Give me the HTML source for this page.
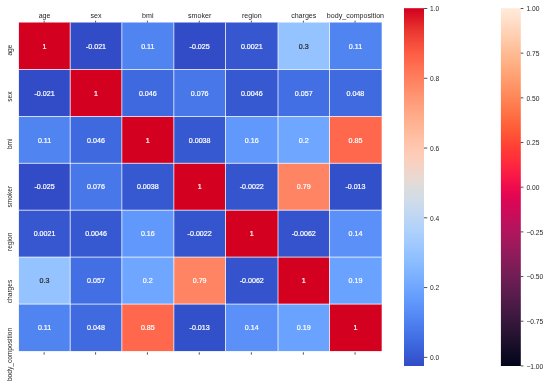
<!DOCTYPE html>
<html><head><meta charset="utf-8"><title>Correlation heatmap</title>
<style>html,body{margin:0;padding:0;background:#fff}svg{display:block}</style></head>
<body>
<svg width="550" height="387" viewBox="0 0 550 387" font-family="'Liberation Sans', sans-serif" font-size="7.1">
<defs>
<linearGradient id="g1" x1="0" y1="1" x2="0" y2="0"><stop offset="0.0000" stop-color="#314cc6"/><stop offset="0.0312" stop-color="#375ad2"/><stop offset="0.0625" stop-color="#3e68de"/><stop offset="0.0938" stop-color="#4675e8"/><stop offset="0.1250" stop-color="#4f82f0"/><stop offset="0.1562" stop-color="#598ff7"/><stop offset="0.1875" stop-color="#639bfd"/><stop offset="0.2188" stop-color="#6fa6ff"/><stop offset="0.2500" stop-color="#7bb0ff"/><stop offset="0.2812" stop-color="#87baff"/><stop offset="0.3125" stop-color="#94c2ff"/><stop offset="0.3438" stop-color="#a1caff"/><stop offset="0.3750" stop-color="#add0fc"/><stop offset="0.4062" stop-color="#bad5f6"/><stop offset="0.4375" stop-color="#c6d9ef"/><stop offset="0.4688" stop-color="#d2dce6"/><stop offset="0.5000" stop-color="#dddcdc"/><stop offset="0.5312" stop-color="#ebd8d0"/><stop offset="0.5625" stop-color="#f6d2c3"/><stop offset="0.5938" stop-color="#ffcbb6"/><stop offset="0.6250" stop-color="#ffc3a9"/><stop offset="0.6562" stop-color="#ffb99b"/><stop offset="0.6875" stop-color="#ffaf8e"/><stop offset="0.7188" stop-color="#ffa381"/><stop offset="0.7500" stop-color="#ff9774"/><stop offset="0.7812" stop-color="#ff8967"/><stop offset="0.8125" stop-color="#ff7b5b"/><stop offset="0.8438" stop-color="#ff6c4f"/><stop offset="0.8750" stop-color="#fd5c44"/><stop offset="0.9062" stop-color="#f44a3a"/><stop offset="0.9375" stop-color="#ea3630"/><stop offset="0.9688" stop-color="#de1b27"/><stop offset="1.0000" stop-color="#d3001f"/></linearGradient>
<linearGradient id="g2" x1="0" y1="1" x2="0" y2="0"><stop offset="0.0000" stop-color="#02051b"/><stop offset="0.0312" stop-color="#0e0a22"/><stop offset="0.0625" stop-color="#1b0f2b"/><stop offset="0.0938" stop-color="#291433"/><stop offset="0.1250" stop-color="#37173c"/><stop offset="0.1562" stop-color="#451943"/><stop offset="0.1875" stop-color="#531b4a"/><stop offset="0.2188" stop-color="#621c50"/><stop offset="0.2500" stop-color="#711d55"/><stop offset="0.2812" stop-color="#801c58"/><stop offset="0.3125" stop-color="#901b5b"/><stop offset="0.3438" stop-color="#a0195c"/><stop offset="0.3750" stop-color="#b0155d"/><stop offset="0.4062" stop-color="#c0105b"/><stop offset="0.4375" stop-color="#d00a58"/><stop offset="0.4688" stop-color="#df0654"/><stop offset="0.5000" stop-color="#ed0b4d"/><stop offset="0.5312" stop-color="#f91846"/><stop offset="0.5625" stop-color="#ff273e"/><stop offset="0.5938" stop-color="#ff3637"/><stop offset="0.6250" stop-color="#ff4734"/><stop offset="0.6562" stop-color="#ff5837"/><stop offset="0.6875" stop-color="#ff683f"/><stop offset="0.7188" stop-color="#ff774a"/><stop offset="0.7500" stop-color="#ff8657"/><stop offset="0.7812" stop-color="#ff9465"/><stop offset="0.8125" stop-color="#ffa174"/><stop offset="0.8438" stop-color="#ffaf83"/><stop offset="0.8750" stop-color="#ffbb94"/><stop offset="0.9062" stop-color="#ffc8a7"/><stop offset="0.9375" stop-color="#ffd4b9"/><stop offset="0.9688" stop-color="#ffe0cb"/><stop offset="1.0000" stop-color="#ffebdb"/></linearGradient>
</defs>
<rect width="550" height="387" fill="#fff"/>
<rect x="18.90" y="22.50" width="51.60" height="47.30" fill="#d3001f"/>
<rect x="70.20" y="22.50" width="51.90" height="47.30" fill="#314cc6"/>
<rect x="121.80" y="22.50" width="52.30" height="47.30" fill="#5084f1"/>
<rect x="173.80" y="22.50" width="52.00" height="47.30" fill="#314cc6"/>
<rect x="225.50" y="22.50" width="52.80" height="47.30" fill="#3657cf"/>
<rect x="278.00" y="22.50" width="51.80" height="47.30" fill="#95c3ff"/>
<rect x="329.50" y="22.50" width="52.20" height="47.30" fill="#5084f1"/>
<rect x="18.90" y="69.50" width="51.60" height="47.30" fill="#314cc6"/>
<rect x="70.20" y="69.50" width="51.90" height="47.30" fill="#d3001f"/>
<rect x="121.80" y="69.50" width="52.30" height="47.30" fill="#3f6adf"/>
<rect x="173.80" y="69.50" width="52.00" height="47.30" fill="#4777e9"/>
<rect x="225.50" y="69.50" width="52.80" height="47.30" fill="#3659d1"/>
<rect x="278.00" y="69.50" width="51.80" height="47.30" fill="#426fe3"/>
<rect x="329.50" y="69.50" width="52.20" height="47.30" fill="#406be0"/>
<rect x="18.90" y="116.50" width="51.60" height="47.10" fill="#5084f1"/>
<rect x="70.20" y="116.50" width="51.90" height="47.10" fill="#3f6adf"/>
<rect x="121.80" y="116.50" width="52.30" height="47.10" fill="#d3001f"/>
<rect x="173.80" y="116.50" width="52.00" height="47.10" fill="#3659d1"/>
<rect x="225.50" y="116.50" width="52.80" height="47.10" fill="#6198fb"/>
<rect x="278.00" y="116.50" width="51.80" height="47.10" fill="#6fa6ff"/>
<rect x="329.50" y="116.50" width="52.20" height="47.10" fill="#ff684d"/>
<rect x="18.90" y="163.30" width="51.60" height="47.20" fill="#314cc6"/>
<rect x="70.20" y="163.30" width="51.90" height="47.20" fill="#4777e9"/>
<rect x="121.80" y="163.30" width="52.30" height="47.20" fill="#3659d1"/>
<rect x="173.80" y="163.30" width="52.00" height="47.20" fill="#d3001f"/>
<rect x="225.50" y="163.30" width="52.80" height="47.20" fill="#3555ce"/>
<rect x="278.00" y="163.30" width="51.80" height="47.20" fill="#ff8463"/>
<rect x="329.50" y="163.30" width="52.20" height="47.20" fill="#3250c9"/>
<rect x="18.90" y="210.20" width="51.60" height="47.20" fill="#3657cf"/>
<rect x="70.20" y="210.20" width="51.90" height="47.20" fill="#3659d1"/>
<rect x="121.80" y="210.20" width="52.30" height="47.20" fill="#6198fb"/>
<rect x="173.80" y="210.20" width="52.00" height="47.20" fill="#3555ce"/>
<rect x="225.50" y="210.20" width="52.80" height="47.20" fill="#d3001f"/>
<rect x="278.00" y="210.20" width="51.80" height="47.20" fill="#3453cc"/>
<rect x="329.50" y="210.20" width="52.20" height="47.20" fill="#5a90f8"/>
<rect x="18.90" y="257.10" width="51.60" height="47.30" fill="#95c3ff"/>
<rect x="70.20" y="257.10" width="51.90" height="47.30" fill="#426fe3"/>
<rect x="121.80" y="257.10" width="52.30" height="47.30" fill="#6fa6ff"/>
<rect x="173.80" y="257.10" width="52.00" height="47.30" fill="#ff8463"/>
<rect x="225.50" y="257.10" width="52.80" height="47.30" fill="#3453cc"/>
<rect x="278.00" y="257.10" width="51.80" height="47.30" fill="#d3001f"/>
<rect x="329.50" y="257.10" width="52.20" height="47.30" fill="#6aa2ff"/>
<rect x="18.90" y="304.10" width="51.60" height="47.00" fill="#5084f1"/>
<rect x="70.20" y="304.10" width="51.90" height="47.00" fill="#406be0"/>
<rect x="121.80" y="304.10" width="52.30" height="47.00" fill="#ff684d"/>
<rect x="173.80" y="304.10" width="52.00" height="47.00" fill="#3250c9"/>
<rect x="225.50" y="304.10" width="52.80" height="47.00" fill="#5a90f8"/>
<rect x="278.00" y="304.10" width="51.80" height="47.00" fill="#6aa2ff"/>
<rect x="329.50" y="304.10" width="52.20" height="47.00" fill="#d3001f"/>
<text x="44.55" y="48.65" text-anchor="middle" fill="#fff" stroke="#fff" stroke-width="0.2">1</text>
<text x="96.00" y="48.65" text-anchor="middle" fill="#fff" stroke="#fff" stroke-width="0.2">-0.021</text>
<text x="147.80" y="48.65" text-anchor="middle" fill="#fff" stroke="#fff" stroke-width="0.2">0.11</text>
<text x="199.65" y="48.65" text-anchor="middle" fill="#fff" stroke="#fff" stroke-width="0.2">-0.025</text>
<text x="251.75" y="48.65" text-anchor="middle" fill="#fff" stroke="#fff" stroke-width="0.2">0.0021</text>
<text x="303.75" y="48.65" text-anchor="middle" fill="#262626" stroke="#262626" stroke-width="0.2">0.3</text>
<text x="355.45" y="48.65" text-anchor="middle" fill="#fff" stroke="#fff" stroke-width="0.2">0.11</text>
<text x="44.55" y="95.65" text-anchor="middle" fill="#fff" stroke="#fff" stroke-width="0.2">-0.021</text>
<text x="96.00" y="95.65" text-anchor="middle" fill="#fff" stroke="#fff" stroke-width="0.2">1</text>
<text x="147.80" y="95.65" text-anchor="middle" fill="#fff" stroke="#fff" stroke-width="0.2">0.046</text>
<text x="199.65" y="95.65" text-anchor="middle" fill="#fff" stroke="#fff" stroke-width="0.2">0.076</text>
<text x="251.75" y="95.65" text-anchor="middle" fill="#fff" stroke="#fff" stroke-width="0.2">0.0046</text>
<text x="303.75" y="95.65" text-anchor="middle" fill="#fff" stroke="#fff" stroke-width="0.2">0.057</text>
<text x="355.45" y="95.65" text-anchor="middle" fill="#fff" stroke="#fff" stroke-width="0.2">0.048</text>
<text x="44.55" y="142.55" text-anchor="middle" fill="#fff" stroke="#fff" stroke-width="0.2">0.11</text>
<text x="96.00" y="142.55" text-anchor="middle" fill="#fff" stroke="#fff" stroke-width="0.2">0.046</text>
<text x="147.80" y="142.55" text-anchor="middle" fill="#fff" stroke="#fff" stroke-width="0.2">1</text>
<text x="199.65" y="142.55" text-anchor="middle" fill="#fff" stroke="#fff" stroke-width="0.2">0.0038</text>
<text x="251.75" y="142.55" text-anchor="middle" fill="#fff" stroke="#fff" stroke-width="0.2">0.16</text>
<text x="303.75" y="142.55" text-anchor="middle" fill="#fff" stroke="#fff" stroke-width="0.2">0.2</text>
<text x="355.45" y="142.55" text-anchor="middle" fill="#fff" stroke="#fff" stroke-width="0.2">0.85</text>
<text x="44.55" y="189.40" text-anchor="middle" fill="#fff" stroke="#fff" stroke-width="0.2">-0.025</text>
<text x="96.00" y="189.40" text-anchor="middle" fill="#fff" stroke="#fff" stroke-width="0.2">0.076</text>
<text x="147.80" y="189.40" text-anchor="middle" fill="#fff" stroke="#fff" stroke-width="0.2">0.0038</text>
<text x="199.65" y="189.40" text-anchor="middle" fill="#fff" stroke="#fff" stroke-width="0.2">1</text>
<text x="251.75" y="189.40" text-anchor="middle" fill="#fff" stroke="#fff" stroke-width="0.2">-0.0022</text>
<text x="303.75" y="189.40" text-anchor="middle" fill="#fff" stroke="#fff" stroke-width="0.2">0.79</text>
<text x="355.45" y="189.40" text-anchor="middle" fill="#fff" stroke="#fff" stroke-width="0.2">-0.013</text>
<text x="44.55" y="236.30" text-anchor="middle" fill="#fff" stroke="#fff" stroke-width="0.2">0.0021</text>
<text x="96.00" y="236.30" text-anchor="middle" fill="#fff" stroke="#fff" stroke-width="0.2">0.0046</text>
<text x="147.80" y="236.30" text-anchor="middle" fill="#fff" stroke="#fff" stroke-width="0.2">0.16</text>
<text x="199.65" y="236.30" text-anchor="middle" fill="#fff" stroke="#fff" stroke-width="0.2">-0.0022</text>
<text x="251.75" y="236.30" text-anchor="middle" fill="#fff" stroke="#fff" stroke-width="0.2">1</text>
<text x="303.75" y="236.30" text-anchor="middle" fill="#fff" stroke="#fff" stroke-width="0.2">-0.0062</text>
<text x="355.45" y="236.30" text-anchor="middle" fill="#fff" stroke="#fff" stroke-width="0.2">0.14</text>
<text x="44.55" y="283.25" text-anchor="middle" fill="#262626" stroke="#262626" stroke-width="0.2">0.3</text>
<text x="96.00" y="283.25" text-anchor="middle" fill="#fff" stroke="#fff" stroke-width="0.2">0.057</text>
<text x="147.80" y="283.25" text-anchor="middle" fill="#fff" stroke="#fff" stroke-width="0.2">0.2</text>
<text x="199.65" y="283.25" text-anchor="middle" fill="#fff" stroke="#fff" stroke-width="0.2">0.79</text>
<text x="251.75" y="283.25" text-anchor="middle" fill="#fff" stroke="#fff" stroke-width="0.2">-0.0062</text>
<text x="303.75" y="283.25" text-anchor="middle" fill="#fff" stroke="#fff" stroke-width="0.2">1</text>
<text x="355.45" y="283.25" text-anchor="middle" fill="#fff" stroke="#fff" stroke-width="0.2">0.19</text>
<text x="44.55" y="330.10" text-anchor="middle" fill="#fff" stroke="#fff" stroke-width="0.2">0.11</text>
<text x="96.00" y="330.10" text-anchor="middle" fill="#fff" stroke="#fff" stroke-width="0.2">0.048</text>
<text x="147.80" y="330.10" text-anchor="middle" fill="#fff" stroke="#fff" stroke-width="0.2">0.85</text>
<text x="199.65" y="330.10" text-anchor="middle" fill="#fff" stroke="#fff" stroke-width="0.2">-0.013</text>
<text x="251.75" y="330.10" text-anchor="middle" fill="#fff" stroke="#fff" stroke-width="0.2">0.14</text>
<text x="303.75" y="330.10" text-anchor="middle" fill="#fff" stroke="#fff" stroke-width="0.2">0.19</text>
<text x="355.45" y="330.10" text-anchor="middle" fill="#fff" stroke="#fff" stroke-width="0.2">1</text>
<line x1="70.20" x2="70.20" y1="22.5" y2="351.1" stroke="#fff" stroke-width="0.75"/>
<line x1="18.9" x2="381.7" y1="69.50" y2="69.50" stroke="#fff" stroke-width="0.75"/>
<line x1="121.80" x2="121.80" y1="22.5" y2="351.1" stroke="#fff" stroke-width="0.75"/>
<line x1="18.9" x2="381.7" y1="116.50" y2="116.50" stroke="#fff" stroke-width="0.75"/>
<line x1="173.80" x2="173.80" y1="22.5" y2="351.1" stroke="#fff" stroke-width="0.75"/>
<line x1="18.9" x2="381.7" y1="163.30" y2="163.30" stroke="#fff" stroke-width="0.75"/>
<line x1="225.50" x2="225.50" y1="22.5" y2="351.1" stroke="#fff" stroke-width="0.75"/>
<line x1="18.9" x2="381.7" y1="210.20" y2="210.20" stroke="#fff" stroke-width="0.75"/>
<line x1="278.00" x2="278.00" y1="22.5" y2="351.1" stroke="#fff" stroke-width="0.75"/>
<line x1="18.9" x2="381.7" y1="257.10" y2="257.10" stroke="#fff" stroke-width="0.75"/>
<line x1="329.50" x2="329.50" y1="22.5" y2="351.1" stroke="#fff" stroke-width="0.75"/>
<line x1="18.9" x2="381.7" y1="304.10" y2="304.10" stroke="#fff" stroke-width="0.75"/>
<text x="44.55" y="17.5" text-anchor="middle" fill="#262626">age</text>
<line x1="44.15" x2="44.15" y1="20.7" y2="22.5" stroke="#262626" stroke-width="0.8"/>
<line x1="44.15" x2="44.15" y1="352.30" y2="354.60" stroke="#262626" stroke-width="0.8"/>
<text x="96.00" y="17.5" text-anchor="middle" fill="#262626">sex</text>
<line x1="95.60" x2="95.60" y1="20.7" y2="22.5" stroke="#262626" stroke-width="0.8"/>
<line x1="95.60" x2="95.60" y1="352.30" y2="354.60" stroke="#262626" stroke-width="0.8"/>
<text x="147.80" y="17.5" text-anchor="middle" fill="#262626">bmi</text>
<line x1="147.40" x2="147.40" y1="20.7" y2="22.5" stroke="#262626" stroke-width="0.8"/>
<line x1="147.40" x2="147.40" y1="352.30" y2="354.60" stroke="#262626" stroke-width="0.8"/>
<text x="199.65" y="17.5" text-anchor="middle" fill="#262626">smoker</text>
<line x1="199.25" x2="199.25" y1="20.7" y2="22.5" stroke="#262626" stroke-width="0.8"/>
<line x1="199.25" x2="199.25" y1="352.30" y2="354.60" stroke="#262626" stroke-width="0.8"/>
<text x="251.75" y="17.5" text-anchor="middle" fill="#262626">region</text>
<line x1="251.35" x2="251.35" y1="20.7" y2="22.5" stroke="#262626" stroke-width="0.8"/>
<line x1="251.35" x2="251.35" y1="352.30" y2="354.60" stroke="#262626" stroke-width="0.8"/>
<text x="303.75" y="17.5" text-anchor="middle" fill="#262626">charges</text>
<line x1="303.35" x2="303.35" y1="20.7" y2="22.5" stroke="#262626" stroke-width="0.8"/>
<line x1="303.35" x2="303.35" y1="352.30" y2="354.60" stroke="#262626" stroke-width="0.8"/>
<text x="355.45" y="17.5" text-anchor="middle" fill="#262626">body_composition</text>
<line x1="355.05" x2="355.05" y1="20.7" y2="22.5" stroke="#262626" stroke-width="0.8"/>
<line x1="355.05" x2="355.05" y1="352.30" y2="354.60" stroke="#262626" stroke-width="0.8"/>
<text transform="translate(11.7,44.60) rotate(-90) scale(0.93,1)" text-anchor="end" fill="#262626">age</text>
<text transform="translate(11.7,91.56) rotate(-90) scale(0.93,1)" text-anchor="end" fill="#262626">sex</text>
<text transform="translate(11.7,138.48) rotate(-90) scale(0.93,1)" text-anchor="end" fill="#262626">bmi</text>
<text transform="translate(11.7,185.82) rotate(-90) scale(0.93,1)" text-anchor="end" fill="#262626">smoker</text>
<text transform="translate(11.7,232.58) rotate(-90) scale(0.93,1)" text-anchor="end" fill="#262626">region</text>
<text transform="translate(11.7,279.76) rotate(-90) scale(0.93,1)" text-anchor="end" fill="#262626">charges</text>
<text transform="translate(11.7,327.94) rotate(-90) scale(0.93,1)" text-anchor="end" fill="#262626">body_composition</text>
<rect x="404" y="8.2" width="20" height="357.80" fill="url(#g1)"/>
<rect x="500.9" y="8.2" width="19.9" height="357.80" fill="url(#g2)"/>
<line x1="424" x2="427.3" y1="357.35" y2="357.35" stroke="#262626" stroke-width="0.8"/>
<text transform="translate(429.9,360.05) scale(0.94,1)" fill="#262626">0.0</text>
<line x1="424" x2="427.3" y1="287.58" y2="287.58" stroke="#262626" stroke-width="0.8"/>
<text transform="translate(429.9,290.28) scale(0.94,1)" fill="#262626">0.2</text>
<line x1="424" x2="427.3" y1="217.81" y2="217.81" stroke="#262626" stroke-width="0.8"/>
<text transform="translate(429.9,220.51) scale(0.94,1)" fill="#262626">0.4</text>
<line x1="424" x2="427.3" y1="148.04" y2="148.04" stroke="#262626" stroke-width="0.8"/>
<text transform="translate(429.9,150.74) scale(0.94,1)" fill="#262626">0.6</text>
<line x1="424" x2="427.3" y1="78.27" y2="78.27" stroke="#262626" stroke-width="0.8"/>
<text transform="translate(429.9,80.97) scale(0.94,1)" fill="#262626">0.8</text>
<line x1="424" x2="427.3" y1="8.50" y2="8.50" stroke="#262626" stroke-width="0.8"/>
<text transform="translate(429.9,11.20) scale(0.94,1)" fill="#262626">1.0</text>
<line x1="520.7" x2="523.4" y1="365.90" y2="365.90" stroke="#262626" stroke-width="0.8"/>
<text transform="translate(526.4,368.60) scale(0.94,1)" fill="#262626">−1.00</text>
<line x1="520.7" x2="523.4" y1="321.23" y2="321.23" stroke="#262626" stroke-width="0.8"/>
<text transform="translate(526.4,323.93) scale(0.94,1)" fill="#262626">−0.75</text>
<line x1="520.7" x2="523.4" y1="276.55" y2="276.55" stroke="#262626" stroke-width="0.8"/>
<text transform="translate(526.4,279.25) scale(0.94,1)" fill="#262626">−0.50</text>
<line x1="520.7" x2="523.4" y1="231.88" y2="231.88" stroke="#262626" stroke-width="0.8"/>
<text transform="translate(526.4,234.58) scale(0.94,1)" fill="#262626">−0.25</text>
<line x1="520.7" x2="523.4" y1="187.20" y2="187.20" stroke="#262626" stroke-width="0.8"/>
<text transform="translate(526.4,189.90) scale(0.94,1)" fill="#262626">0.00</text>
<line x1="520.7" x2="523.4" y1="142.53" y2="142.53" stroke="#262626" stroke-width="0.8"/>
<text transform="translate(526.4,145.22) scale(0.94,1)" fill="#262626">0.25</text>
<line x1="520.7" x2="523.4" y1="97.85" y2="97.85" stroke="#262626" stroke-width="0.8"/>
<text transform="translate(526.4,100.55) scale(0.94,1)" fill="#262626">0.50</text>
<line x1="520.7" x2="523.4" y1="53.17" y2="53.17" stroke="#262626" stroke-width="0.8"/>
<text transform="translate(526.4,55.88) scale(0.94,1)" fill="#262626">0.75</text>
<line x1="520.7" x2="523.4" y1="8.50" y2="8.50" stroke="#262626" stroke-width="0.8"/>
<text transform="translate(526.4,11.20) scale(0.94,1)" fill="#262626">1.00</text>
</svg>
</body></html>
